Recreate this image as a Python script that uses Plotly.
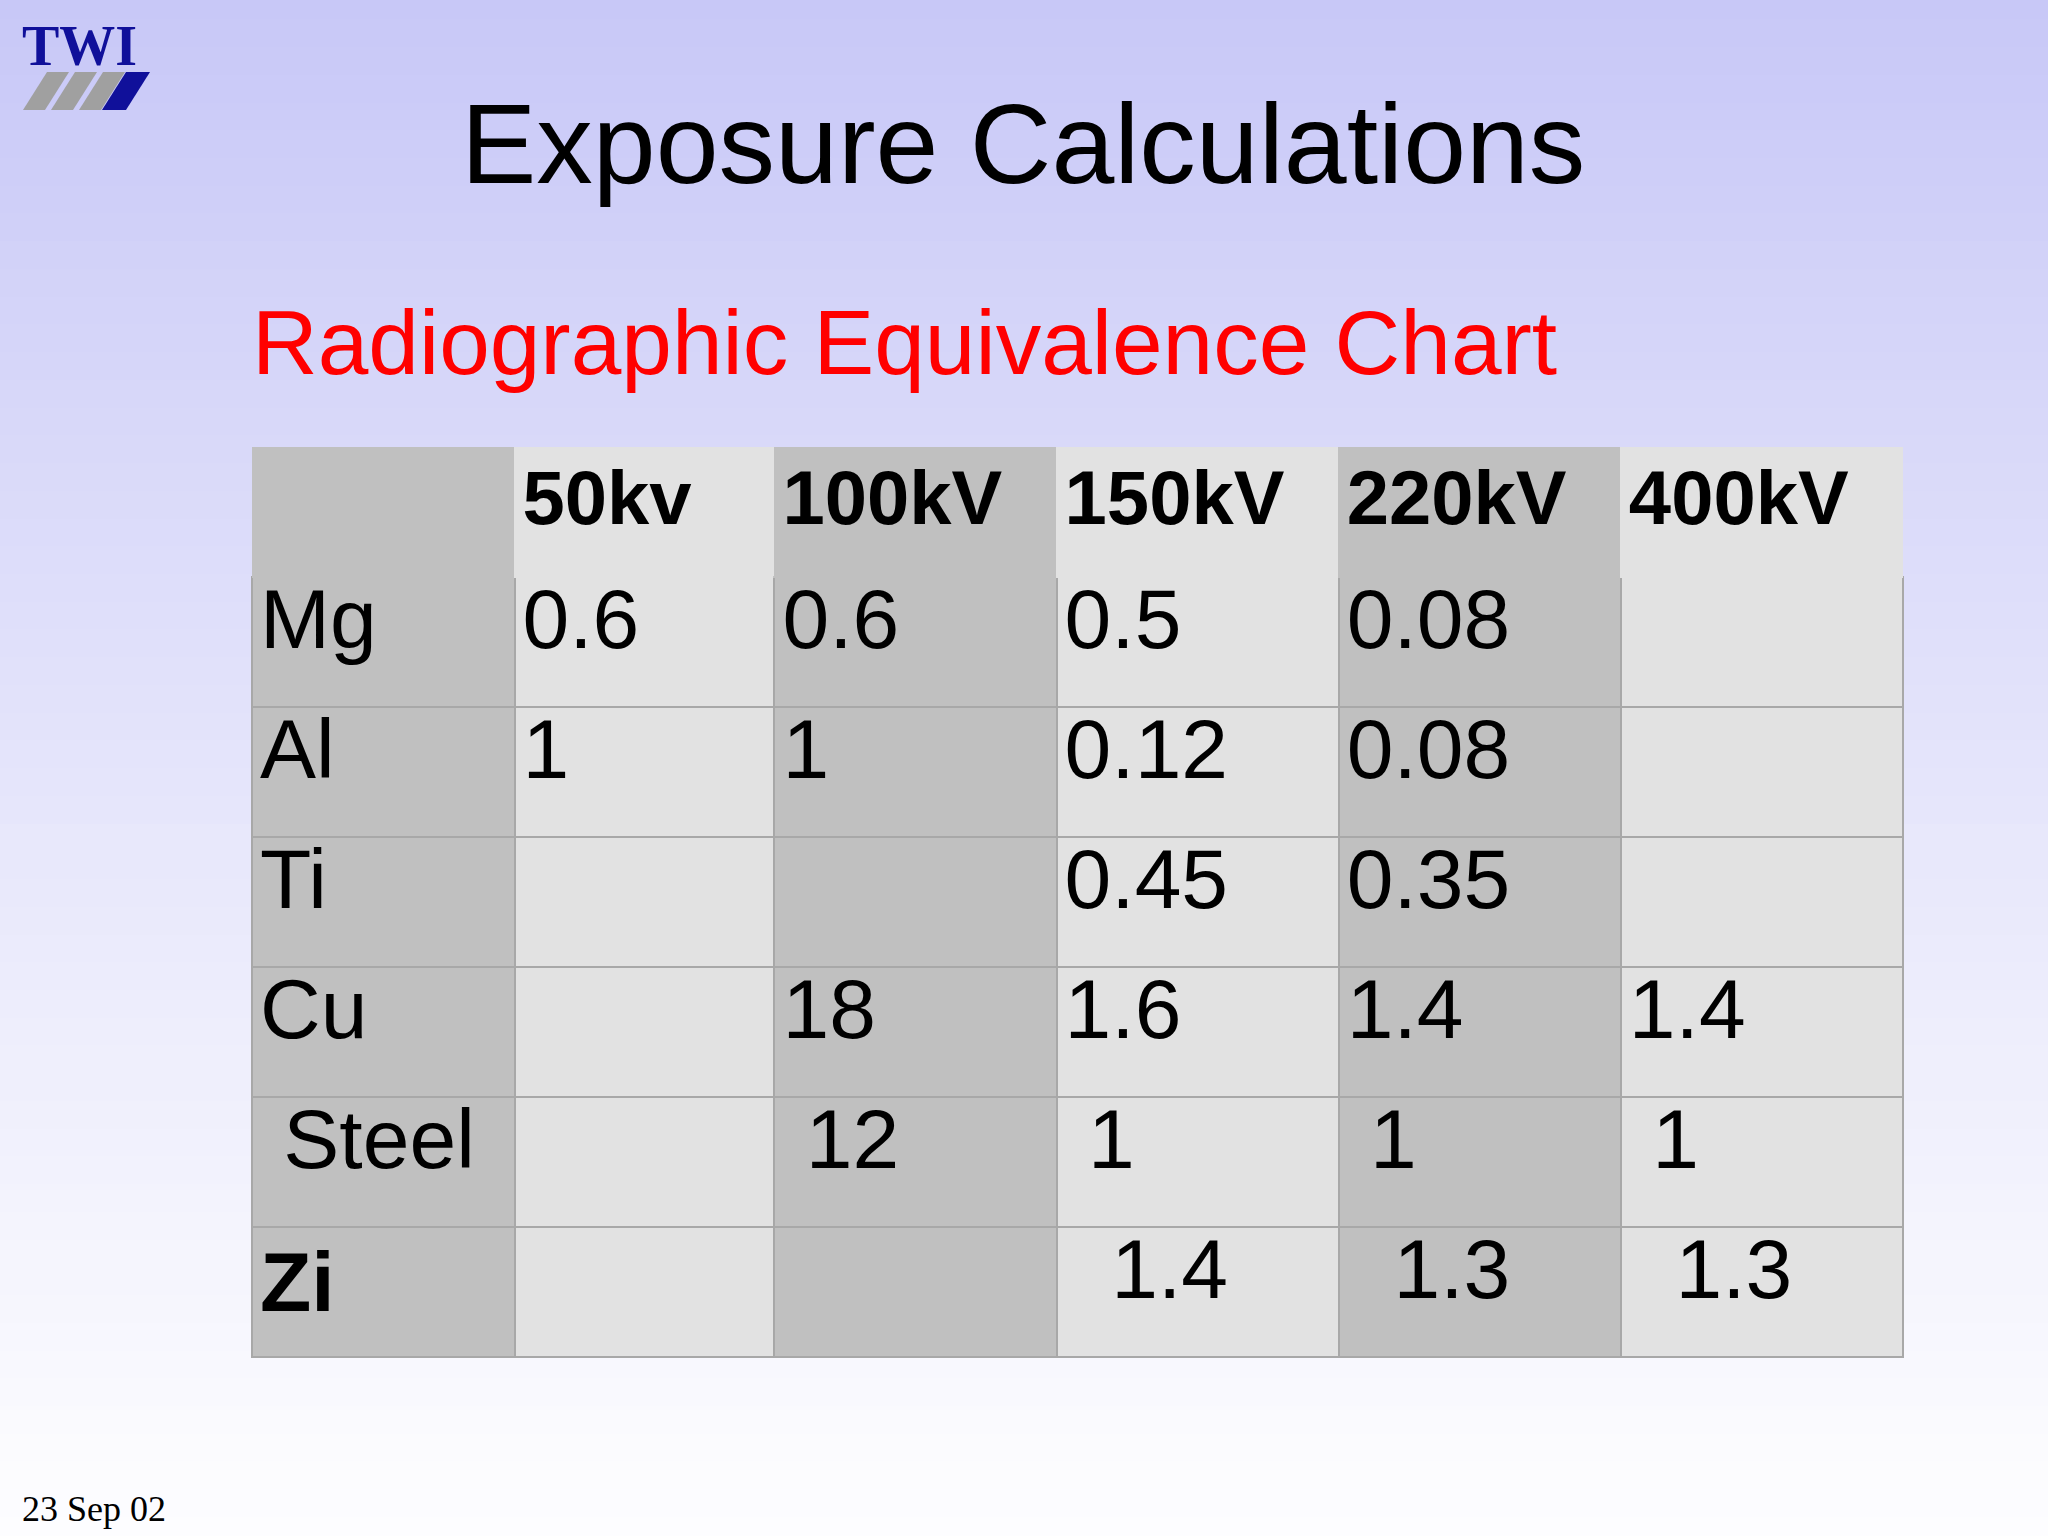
import plotly.graph_objects as go
import numpy as np

title = "Exposure Calculations"
subtitle = "Radiographic Equivalence Chart"
date_text = "23 Sep 02"
headers = ["", "50kv", "100kV", "150kV", "220kV", "400kV"]
materials = ["Mg", "Al", "Ti", "Cu", " Steel", "<b>Zi</b>"]
kv50 = ["0.6", "1", "", "", "", ""]
kv100 = ["0.6", "1", "", "18", " 12", ""]
kv150 = ["0.5", "0.12", "0.45", "1.6", " 1", "  1.4"]
kv220 = ["0.08", "0.08", "0.35", "1.4", " 1", "  1.3"]
kv400 = ["", "", "", "1.4", " 1", "  1.3"]

W, H = 2048, 1536
LIGHT, DARK = "#e2e2e2", "#c0c0c0"
FONT = "Liberation Sans, Arial, sans-serif"

fig = go.Figure()
ys = np.linspace(-50, H + 50, 60)
fig.add_trace(go.Heatmap(x=[-200, W + 200], y=ys, z=[[v, v] for v in ys],
                         colorscale=[[0, "#c6c6f7"], [0.55, "#e8e8fb"], [1, "#ffffff"]],
                         showscale=False, hoverinfo="skip"))

cols = [materials, kv50, kv100, kv150, kv220, kv400]
colfill = [DARK, LIGHT, DARK, LIGHT, DARK, LIGHT]
fig.add_trace(go.Table(
    domain=dict(x=[252 / W, 1903 / W], y=[1 - 1360 / H, 1 - 447 / H]),
    columnwidth=[201, 199, 216, 216, 216, 216],
    header=dict(values=["<b>%s</b>" % h if h else "" for h in headers],
                fill_color=colfill, line_color=colfill, height=130,
                font=dict(family=FONT, size=76, color="black"), align="left"),
    cells=dict(values=cols, fill_color=colfill,
               line=dict(color="#a8a8a8", width=2), height=130,
               font=dict(family=FONT, size=84, color="black"), align="left"),
))

def para(x0, color):
    return dict(type="path", xref="x", yref="y",
                path=f"M {x0} 110 L {x0+22} 110 L {x0+46} 72 L {x0+24} 72 Z",
                fillcolor=color, line=dict(width=0))
shapes = [para(23, "#a0a0a0"), para(51, "#a0a0a0"), para(79, "#a0a0a0"),
          dict(type="path", xref="x", yref="y",
               path="M 102 110 L 126 110 L 150 72 L 126 72 Z",
               fillcolor="#10109a", line=dict(width=0))]

fig.update_layout(
    width=W, height=H, margin=dict(l=0, r=0, t=0, b=0),
    xaxis=dict(range=[0, W], visible=False, fixedrange=True),
    yaxis=dict(range=[H, 0], visible=False, fixedrange=True),
    plot_bgcolor="white", paper_bgcolor="white", shapes=shapes,
    annotations=[
        dict(x=1023, y=144, xref="x", yref="y", text=title, showarrow=False,
             font=dict(family=FONT, size=113, color="black")),
        dict(x=250, y=342, xref="x", yref="y", text=subtitle, showarrow=False, xanchor="left",
             font=dict(family=FONT, size=91, color="#ff0000")),
        dict(x=20, y=1509, xref="x", yref="y", text=date_text, showarrow=False, xanchor="left",
             font=dict(family="Liberation Serif, Times New Roman, serif", size=36, color="black")),
        dict(x=20, y=46, xref="x", yref="y", text="<b>TWI</b>", showarrow=False, xanchor="left",
             font=dict(family="Liberation Serif, Times New Roman, serif", size=56, color="#10109a")),
    ],
)
fig.write_html("out.html", config={"displayModeBar": False},
               post_script="document.body.style.margin='0';")
